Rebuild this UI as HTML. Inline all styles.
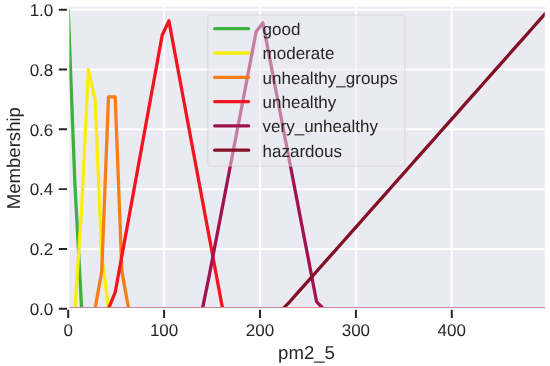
<!DOCTYPE html>
<html><head><meta charset="utf-8"><title>pm2_5 membership</title>
<style>html,body{margin:0;padding:0;background:#fff}body{width:550px;height:366px;overflow:hidden}svg text{font-family:"Liberation Sans",sans-serif;text-rendering:geometricPrecision}</style></head>
<body>
<svg width="550" height="366" viewBox="0 0 550 366" style="display:block" fill="#262626">
<defs><clipPath id="ax"><rect x="68.2" y="6.8" width="476.60" height="301.90"/></clipPath></defs>
<rect width="550" height="366" fill="#fff"/>
<rect x="68.2" y="6.8" width="476.60" height="301.90" fill="#eaeaf2"/>
<path d="M68.20 6.8V308.7M164.10 6.8V308.7M259.99 6.8V308.7M355.89 6.8V308.7M451.78 6.8V308.7M68.2 308.70H544.8M68.2 248.92H544.8M68.2 189.14H544.8M68.2 129.35H544.8M68.2 69.57H544.8M68.2 9.79H544.8" stroke="#fff" stroke-width="2.0" fill="none" clip-path="url(#ax)"/>
<g clip-path="url(#ax)" fill="none" stroke-linejoin="round" stroke-linecap="round" stroke-width="3.3">
<polyline points="68.20,9.79 74.91,184.15 81.63,308.70 88.34,308.70 95.05,308.70 101.76,308.70 108.48,308.70 115.19,308.70 121.90,308.70 128.61,308.70 135.33,308.70 142.04,308.70 148.75,308.70 155.46,308.70 162.18,308.70 168.89,308.70 175.60,308.70 182.32,308.70 189.03,308.70 195.74,308.70 202.45,308.70 209.17,308.70 215.88,308.70 222.59,308.70 229.30,308.70 236.02,308.70 242.73,308.70 249.44,308.70 256.15,308.70 262.87,308.70 269.58,308.70 276.29,308.70 283.01,308.70 289.72,308.70 296.43,308.70 303.14,308.70 309.86,308.70 316.57,308.70 323.28,308.70 329.99,308.70 336.71,308.70 343.42,308.70 350.13,308.70 356.85,308.70 363.56,308.70 370.27,308.70 376.98,308.70 383.70,308.70 390.41,308.70 397.12,308.70 403.83,308.70 410.55,308.70 417.26,308.70 423.97,308.70 430.68,308.70 437.40,308.70 444.11,308.70 450.82,308.70 457.54,308.70 464.25,308.70 470.96,308.70 477.67,308.70 484.39,308.70 491.10,308.70 497.81,308.70 504.52,308.70 511.24,308.70 517.95,308.70 524.66,308.70 531.37,308.70 538.09,308.70 544.80,308.70" stroke="#3cb13c"/>
<polyline points="68.20,308.70 74.91,308.70 81.63,209.06 88.34,69.57 95.05,99.02 101.76,255.16 108.48,308.70 115.19,308.70 121.90,308.70 128.61,308.70 135.33,308.70 142.04,308.70 148.75,308.70 155.46,308.70 162.18,308.70 168.89,308.70 175.60,308.70 182.32,308.70 189.03,308.70 195.74,308.70 202.45,308.70 209.17,308.70 215.88,308.70 222.59,308.70 229.30,308.70 236.02,308.70 242.73,308.70 249.44,308.70 256.15,308.70 262.87,308.70 269.58,308.70 276.29,308.70 283.01,308.70 289.72,308.70 296.43,308.70 303.14,308.70 309.86,308.70 316.57,308.70 323.28,308.70 329.99,308.70 336.71,308.70 343.42,308.70 350.13,308.70 356.85,308.70 363.56,308.70 370.27,308.70 376.98,308.70 383.70,308.70 390.41,308.70 397.12,308.70 403.83,308.70 410.55,308.70 417.26,308.70 423.97,308.70 430.68,308.70 437.40,308.70 444.11,308.70 450.82,308.70 457.54,308.70 464.25,308.70 470.96,308.70 477.67,308.70 484.39,308.70 491.10,308.70 497.81,308.70 504.52,308.70 511.24,308.70 517.95,308.70 524.66,308.70 531.37,308.70 538.09,308.70 544.80,308.70" stroke="#f9ec10"/>
<polyline points="68.20,308.70 74.91,308.70 81.63,308.70 88.34,308.70 95.05,308.70 101.76,271.34 108.48,96.97 115.19,96.97 121.90,271.34 128.61,308.70 135.33,308.70 142.04,308.70 148.75,308.70 155.46,308.70 162.18,308.70 168.89,308.70 175.60,308.70 182.32,308.70 189.03,308.70 195.74,308.70 202.45,308.70 209.17,308.70 215.88,308.70 222.59,308.70 229.30,308.70 236.02,308.70 242.73,308.70 249.44,308.70 256.15,308.70 262.87,308.70 269.58,308.70 276.29,308.70 283.01,308.70 289.72,308.70 296.43,308.70 303.14,308.70 309.86,308.70 316.57,308.70 323.28,308.70 329.99,308.70 336.71,308.70 343.42,308.70 350.13,308.70 356.85,308.70 363.56,308.70 370.27,308.70 376.98,308.70 383.70,308.70 390.41,308.70 397.12,308.70 403.83,308.70 410.55,308.70 417.26,308.70 423.97,308.70 430.68,308.70 437.40,308.70 444.11,308.70 450.82,308.70 457.54,308.70 464.25,308.70 470.96,308.70 477.67,308.70 484.39,308.70 491.10,308.70 497.81,308.70 504.52,308.70 511.24,308.70 517.95,308.70 524.66,308.70 531.37,308.70 538.09,308.70 544.80,308.70" stroke="#f67e12"/>
<polyline points="68.20,308.70 74.91,308.70 81.63,308.70 88.34,308.70 95.05,308.70 101.76,308.70 108.48,308.70 115.19,292.43 121.90,255.69 128.61,218.95 135.33,182.21 142.04,145.47 148.75,108.73 155.46,71.99 162.18,35.25 168.89,20.84 175.60,56.82 182.32,92.81 189.03,128.79 195.74,164.77 202.45,200.75 209.17,236.74 215.88,272.72 222.59,308.70 229.30,308.70 236.02,308.70 242.73,308.70 249.44,308.70 256.15,308.70 262.87,308.70 269.58,308.70 276.29,308.70 283.01,308.70 289.72,308.70 296.43,308.70 303.14,308.70 309.86,308.70 316.57,308.70 323.28,308.70 329.99,308.70 336.71,308.70 343.42,308.70 350.13,308.70 356.85,308.70 363.56,308.70 370.27,308.70 376.98,308.70 383.70,308.70 390.41,308.70 397.12,308.70 403.83,308.70 410.55,308.70 417.26,308.70 423.97,308.70 430.68,308.70 437.40,308.70 444.11,308.70 450.82,308.70 457.54,308.70 464.25,308.70 470.96,308.70 477.67,308.70 484.39,308.70 491.10,308.70 497.81,308.70 504.52,308.70 511.24,308.70 517.95,308.70 524.66,308.70 531.37,308.70 538.09,308.70 544.80,308.70" stroke="#f2151f"/>
<polyline points="68.20,308.70 74.91,308.70 81.63,308.70 88.34,308.70 95.05,308.70 101.76,308.70 108.48,308.70 115.19,308.70 121.90,308.70 128.61,308.70 135.33,308.70 142.04,308.70 148.75,308.70 155.46,308.70 162.18,308.70 168.89,308.70 175.60,308.70 182.32,308.70 189.03,308.70 195.74,308.70 202.45,308.70 209.17,275.82 215.88,240.95 222.59,206.07 229.30,171.20 236.02,136.33 242.73,101.46 249.44,66.58 256.15,31.71 262.87,22.74 269.58,57.61 276.29,92.49 283.01,127.36 289.72,162.23 296.43,197.11 303.14,231.98 309.86,266.85 316.57,301.73 323.28,308.70 329.99,308.70 336.71,308.70 343.42,308.70 350.13,308.70 356.85,308.70 363.56,308.70 370.27,308.70 376.98,308.70 383.70,308.70 390.41,308.70 397.12,308.70 403.83,308.70 410.55,308.70 417.26,308.70 423.97,308.70 430.68,308.70 437.40,308.70 444.11,308.70 450.82,308.70 457.54,308.70 464.25,308.70 470.96,308.70 477.67,308.70 484.39,308.70 491.10,308.70 497.81,308.70 504.52,308.70 511.24,308.70 517.95,308.70 524.66,308.70 531.37,308.70 538.09,308.70 544.80,308.70" stroke="#a2124f"/>
<polyline points="68.20,308.70 74.91,308.70 81.63,308.70 88.34,308.70 95.05,308.70 101.76,308.70 108.48,308.70 115.19,308.70 121.90,308.70 128.61,308.70 135.33,308.70 142.04,308.70 148.75,308.70 155.46,308.70 162.18,308.70 168.89,308.70 175.60,308.70 182.32,308.70 189.03,308.70 195.74,308.70 202.45,308.70 209.17,308.70 215.88,308.70 222.59,308.70 229.30,308.70 236.02,308.70 242.73,308.70 249.44,308.70 256.15,308.70 262.87,308.70 269.58,308.70 276.29,308.70 283.01,308.70 289.72,301.78 296.43,294.21 303.14,286.64 309.86,279.07 316.57,271.50 323.28,263.93 329.99,256.36 336.71,248.79 343.42,241.22 350.13,233.65 356.85,226.08 363.56,218.51 370.27,210.94 376.98,203.37 383.70,195.80 390.41,188.23 397.12,180.66 403.83,173.09 410.55,165.52 417.26,157.95 423.97,150.38 430.68,142.81 437.40,135.24 444.11,127.67 450.82,120.10 457.54,112.53 464.25,104.96 470.96,97.39 477.67,89.82 484.39,82.25 491.10,74.68 497.81,67.11 504.52,59.54 511.24,51.97 517.95,44.40 524.66,36.83 531.37,29.26 538.09,21.68 544.80,14.11" stroke="#841028"/>
</g>
<path d="M68.20 308.7v9.4M164.10 308.7v9.4M259.99 308.7v9.4M355.89 308.7v9.4M451.78 308.7v9.4M68.2 308.70h-9.4M68.2 248.92h-9.4M68.2 189.14h-9.4M68.2 129.35h-9.4M68.2 69.57h-9.4M68.2 9.79h-9.4" stroke="#262626" stroke-width="1.96" fill="none"/>
<path d="M68.2 6.8V309.85M67.05 308.7H544.8" stroke="#fff" stroke-width="2.3" fill="none"/>
<g font-size="17.0">
<text x="68.20" y="335.8" text-anchor="middle">0</text>
<text x="164.10" y="335.8" text-anchor="middle">100</text>
<text x="259.99" y="335.8" text-anchor="middle">200</text>
<text x="355.89" y="335.8" text-anchor="middle">300</text>
<text x="451.78" y="335.8" text-anchor="middle">400</text>
<text x="53.3" y="314.90" text-anchor="end">0.0</text>
<text x="53.3" y="255.12" text-anchor="end">0.2</text>
<text x="53.3" y="195.34" text-anchor="end">0.4</text>
<text x="53.3" y="135.55" text-anchor="end">0.6</text>
<text x="53.3" y="75.77" text-anchor="end">0.8</text>
<text x="53.3" y="15.99" text-anchor="end">1.0</text>
</g>
<text x="306.5" y="358.9" font-size="18.6" text-anchor="middle">pm2_5</text>
<text transform="translate(19.7 158.2) rotate(-90)" font-size="18.6" text-anchor="middle">Membership</text>
<rect x="207.7" y="15.3" width="197.40" height="150.80" rx="3.5" fill="#eaeaf2" fill-opacity="0.5" stroke="#ccc" stroke-opacity="0.4" stroke-width="1.6"/>
<g stroke-width="3.3" stroke-linecap="round" fill="none">
<path d="M214.7 28.70H248.6" stroke="#3cb13c"/>
<path d="M214.7 53.00H248.6" stroke="#f9ec10"/>
<path d="M214.7 77.30H248.6" stroke="#f67e12"/>
<path d="M214.7 101.60H248.6" stroke="#f2151f"/>
<path d="M214.7 125.90H248.6" stroke="#a2124f"/>
<path d="M214.7 150.20H248.6" stroke="#841028"/>
</g>
<g font-size="17.0">
<text x="262.6" y="35.00">good</text>
<text x="262.6" y="59.30">moderate</text>
<text x="262.6" y="83.60">unhealthy_groups</text>
<text x="262.6" y="107.90">unhealthy</text>
<text x="262.6" y="132.20">very_unhealthy</text>
<text x="262.6" y="156.50">hazardous</text>
</g>
</svg>
</body></html>
